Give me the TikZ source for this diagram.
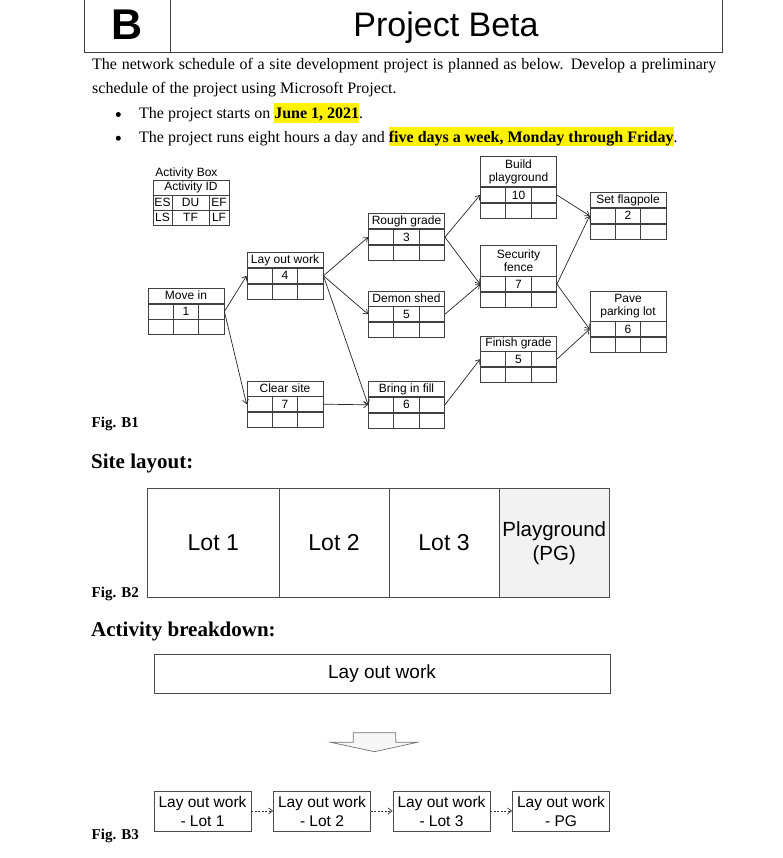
\documentclass[tikz,border=0pt]{standalone}
\usepackage{fontspec}
\setmainfont{Liberation Serif}
\setsansfont{Liberation Sans}
\usetikzlibrary{arrows.meta,positioning}

% yellow marker behind bold words
\newcommand\hilite[1]{{\setlength\fboxsep{0pt}\colorbox{yellow}{\rule[-3.7pt]{0pt}{19.4pt}\textbf{#1}}}}

% activity box: id, position, title, duration, title height
\newcommand\actbox[5]{%
  \node[durow] (#1) at (#2) {#4};
  \node[titlerow, minimum height=#5, above=0pt of #1] (#1-t) {#3};
  \node[durow, below=0pt of #1] (#1-b) {};
}

\begin{document}
\begin{tikzpicture}[x=1pt, y=-1pt,
    ink/.style={draw=black!75, line width=0.8pt},
    boxfont/.style={font=\sffamily\fontsize{12}{13.5}\selectfont},
    durow/.style={ink, boxfont, minimum width=76pt, minimum height=15pt, inner sep=0pt,
      path picture={\foreach \k in {1,2}
        \draw[black!75, line width=0.8pt] ([xshift=\k*25.33pt]path picture bounding box.north west)
          -- ([xshift=\k*25.33pt]path picture bounding box.south west);}},
    titlerow/.style={ink, boxfont, minimum width=76pt, inner sep=0pt, align=center},
    keycell/.style={ink, boxfont, minimum height=15pt, inner sep=0pt},
    wire/.style={black!85, line width=0.7pt, -{Straight Barb[length=4pt, width=6pt]}},
    dashwire/.style={black!80, line width=0.7pt, dash pattern=on 2pt off 1.5pt,
      -{Straight Barb[length=4pt, width=6pt]}},
    body/.style={anchor=base west, inner sep=0pt, font=\fontsize{16}{19}\selectfont},
    dot/.style={circle, fill=black, inner sep=0pt, minimum size=5pt},
    figlabel/.style={anchor=base west, inner sep=0pt, font=\bfseries\fontsize{15}{18}\selectfont},
    section/.style={anchor=base west, inner sep=0pt, font=\bfseries\fontsize{21}{25}\selectfont},
    lot/.style={draw=black!70, line width=0.8pt, minimum height=109.5pt, inner sep=0pt,
      align=center, font=\sffamily\fontsize{23}{24}\selectfont},
    part/.style={draw=black!70, line width=0.8pt, minimum width=97pt, minimum height=40pt,
      inner sep=0pt, align=center, font=\sffamily\fontsize{15.5}{19}\selectfont}
  ]
  \useasboundingbox (0,0) rectangle (783,858);

  % header
  \node[ink, minimum width=86pt, minimum height=54pt, anchor=north west, inner sep=0pt] (hdrL) at (84,-2) {};
  \node[ink, minimum width=552pt, minimum height=54pt, anchor=north west, inner sep=0pt] (hdrR) at (170,-2) {};
  \node[anchor=base, inner sep=0pt, font=\sffamily\bfseries\fontsize{43}{50}\selectfont] (letter) at (127.5,39.3) {B};
  \node[anchor=base, inner sep=0pt, font=\sffamily\fontsize{34}{40}\selectfont] (title) at (446,37) {Project Beta};

  % task text
  \node[body] (intro1) at (92,70) {\hbox to 624pt{The network schedule of a site development project is planned as below. Develop a preliminary}};
  \node[body] (intro2) at (92,93.3) {schedule of the project using Microsoft Project.};
  \node[dot] (dot1) at (118.3,114.5) {};
  \node[body] (item1) at (139,119) {The project starts on \hilite{June 1, 2021}.};
  \node[dot] (dot2) at (118.3,138.2) {};
  \node[body] (item2) at (139,142.7) {The project runs eight hours a day and \hilite{five days a week, Monday through Friday}.};

  % network (Fig. B1)
  \node[boxfont, inner sep=0pt] (keyname) at (186.5,173) {Activity Box};
  \node[titlerow, minimum height=15pt] (key) at (191,187.5) {Activity ID};
  \node[keycell, minimum width=19pt] (ES) at (162.5,202.5) {ES};
  \node[keycell, minimum width=37pt] (DU) at (190.5,202.5) {DU};
  \node[keycell, minimum width=20pt] (EF) at (219,202.5) {EF};
  \node[keycell, minimum width=19pt] (LS) at (162.5,217.5) {LS};
  \node[keycell, minimum width=37pt] (TF) at (190.5,217.5) {TF};
  \node[keycell, minimum width=20pt] (LF) at (219,217.5) {LF};

  \actbox{movein}{186,311.5}{Move in}{1}{15pt}
  \actbox{layout}{285,275.8}{Lay out work}{4}{15pt}
  \actbox{clear}{285,404.2}{Clear site}{7}{15pt}
  \actbox{rough}{406.5,237.2}{Rough grade}{3}{15pt}
  \actbox{demon}{406.5,314.2}{Demon shed}{5}{15pt}
  \actbox{bringfill}{406.5,404.8}{Bring in fill}{6}{15pt}
  \actbox{play}{518.5,195}{Build\\playground}{10}{30pt}
  \actbox{fence}{518.5,284.2}{Security\\fence}{7}{30pt}
  \actbox{finish}{518.5,359.2}{Finish grade}{5}{15pt}
  \actbox{flag}{628,215.8}{Set flagpole}{2}{15pt}
  \actbox{pave}{628,329.2}{Pave\\parking lot}{6}{30pt}

  \draw[wire] (movein.east) -- (layout.west);
  \draw[wire] (movein.east) -- (clear.west);
  \draw[wire] (layout.east) -- (rough.west);
  \draw[wire] (layout.east) -- (demon.west);
  \draw[wire] (layout.east) -- (bringfill.west);
  \draw[wire] (clear.east) -- (bringfill.west);
  \draw[wire] (rough.east) -- (play.west);
  \draw[wire] (rough.east) -- (fence.west);
  \draw[wire] (demon.east) -- (fence.west);
  \draw[wire] (bringfill.east) -- (finish.west);
  \draw[wire] (play.east) -- (flag.west);
  \draw[wire] (fence.east) -- (flag.west);
  \draw[wire] (fence.east) -- (pave.west);
  \draw[wire] (finish.east) -- (pave.west);

  \node[figlabel] (figB1) at (91.5,427.3) {Fig. B1};

  % site layout (Fig. B2)
  \node[section] (siteHead) at (91,468.3) {Site layout:};
  \node[lot, minimum width=131.5pt] (lot1) at (213.25,542.75) {Lot 1};
  \node[lot, minimum width=110pt] (lot2) at (334,542.75) {Lot 2};
  \node[lot, minimum width=110pt] (lot3) at (444,542.75) {Lot 3};
  \node[lot, minimum width=110.5pt, fill=gray!10, font=\sffamily\fontsize{20.5}{24}\selectfont] (pg) at (554.25,542.75) {Playground\\(PG)};
  \node[figlabel] (figB2) at (91.5,597.3) {Fig. B2};

  % activity breakdown (Fig. B3)
  \node[section] (breakHead) at (91,636.7) {Activity breakdown:};
  \node[draw=black!70, line width=0.8pt, minimum width=456pt, minimum height=39.3pt, inner sep=0pt,
    font=\sffamily\fontsize{19}{22}\selectfont] (whole) at (382,673.7) {Lay out work};
  \draw[draw=black!55, line width=0.7pt, fill=gray!6] (353.3,732.7) -- (395.7,732.7) -- (395.7,742.3)
    -- (417.3,742.3) -- (374.5,751.7) -- (330.7,742.3) -- (353.3,742.3) -- cycle;
  \node[part] (p1) at (202.5,811) {Lay out work\\- Lot 1};
  \node[part] (p2) at (322,811) {Lay out work\\- Lot 2};
  \node[part] (p3) at (441.5,811) {Lay out work\\- Lot 3};
  \node[part] (p4) at (561,811) {Lay out work\\- PG};
  \draw[dashwire] (p1.east) -- (p2.west);
  \draw[dashwire] (p2.east) -- (p3.west);
  \draw[dashwire] (p3.east) -- (p4.west);
  \node[figlabel] (figB3) at (91.5,839.3) {Fig. B3};
\end{tikzpicture}
\end{document}
